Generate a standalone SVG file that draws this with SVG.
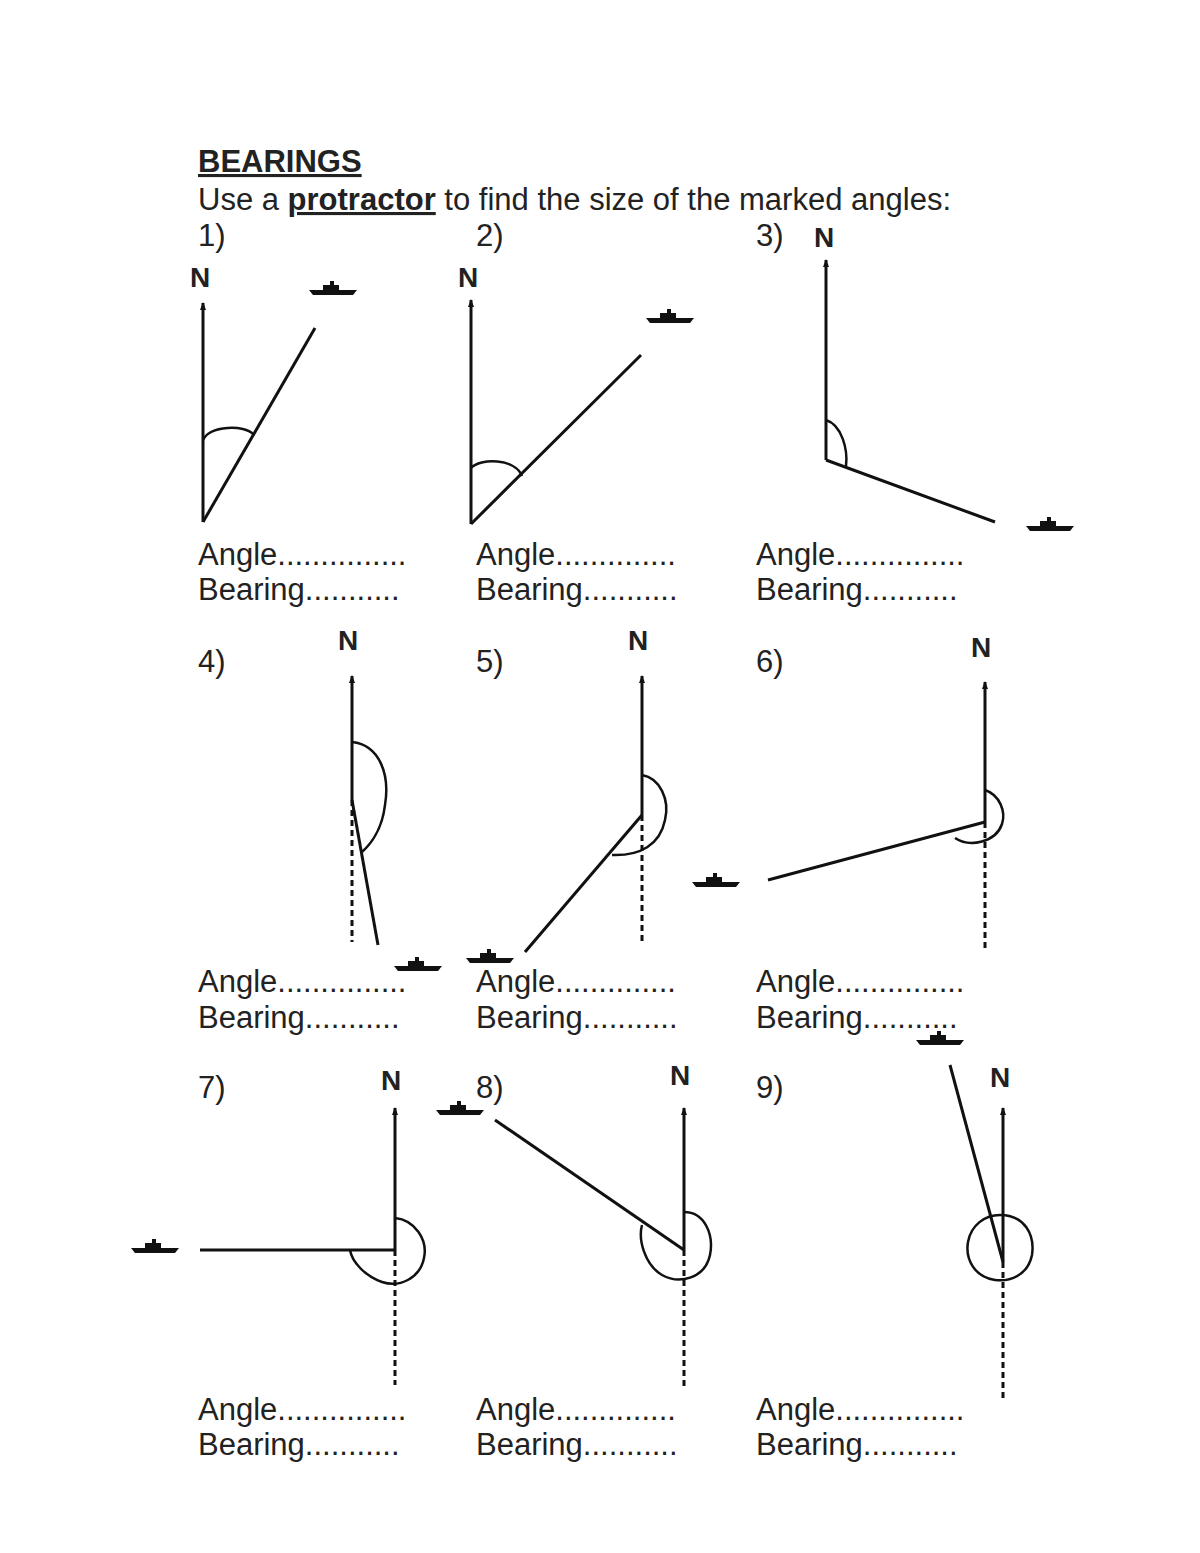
<svg xmlns="http://www.w3.org/2000/svg" width="1200" height="1553" viewBox="0 0 1200 1553">
<style>
text{font-family:"Liberation Sans",Arial,sans-serif;fill:#222}
.t{font-size:31px}
.n{font-size:28px;font-weight:bold}
.ln{stroke:#111;stroke-width:3;fill:none}
.d{stroke:#111;stroke-width:3;fill:none;stroke-dasharray:6,4}
.a{stroke:#111;stroke-width:2.5;fill:none}
</style>
<defs>
<marker id="ar" markerWidth="8" markerHeight="8" refX="7" refY="4" orient="auto" markerUnits="userSpaceOnUse"><path d="M0,1 L8,4 L0,7 Z" fill="#111"/></marker>
<g id="ship"><path d="M-24,2 L24,2 L20,7 L-20,7 Z" fill="#111"/><rect x="-10" y="-3" width="16" height="5" fill="#111"/><rect x="-3" y="-7" width="4" height="4" fill="#111"/></g>
</defs>
<rect width="1200" height="1553" fill="#fff"/>
<text x="198" y="172" class="t" style="font-weight:bold;text-decoration:underline">BEARINGS</text>
<text x="198" y="210" class="t">Use a <tspan font-weight="bold" text-decoration="underline">protractor</tspan> to find the size of the marked angles:</text>
<g class="t">
<text x="198" y="246">1)</text><text x="476" y="246">2)</text><text x="756" y="246">3)</text>
<text x="198" y="672">4)</text><text x="476" y="672">5)</text><text x="756" y="672">6)</text>
<text x="198" y="1098">7)</text><text x="476" y="1098">8)</text><text x="756" y="1098">9)</text>
</g>
<g id="d1"><text x="190" y="287" class="n">N</text><line x1="203" y1="522" x2="203" y2="303" class="ln" marker-end="url(#ar)"/><line x1="203" y1="522" x2="315" y2="328" class="ln"/><path d="M203,440 C210,425 245,425 253,434" class="a"/><use href="#ship" x="333" y="288"/></g>
<g id="d2"><text x="458" y="287" class="n">N</text><line x1="471" y1="524" x2="471" y2="300" class="ln" marker-end="url(#ar)"/><line x1="471" y1="524" x2="641" y2="355" class="ln"/><path d="M471,468 C480,458 515,458 522,476" class="a"/><use href="#ship" x="670" y="316"/></g>
<g id="d3"><text x="814" y="247" class="n">N</text><line x1="826" y1="460" x2="826" y2="260" class="ln" marker-end="url(#ar)"/><line x1="826" y1="460" x2="995" y2="522" class="ln"/><path d="M826,420 C842,425 848,450 846,466" class="a"/><use href="#ship" x="1050" y="524"/></g>
<g id="d4"><text x="338" y="650" class="n">N</text><line x1="352" y1="800" x2="352" y2="676" class="ln" marker-end="url(#ar)"/><line x1="352" y1="800" x2="352" y2="942" class="d"/><line x1="352" y1="800" x2="378" y2="945" class="ln"/><path d="M352,742 C380,745 390,775 385,805 C382,830 370,845 362,852" class="a"/><use href="#ship" x="418" y="964"/></g>
<g id="d5"><text x="628" y="650" class="n">N</text><line x1="642" y1="815" x2="642" y2="676" class="ln" marker-end="url(#ar)"/><line x1="642" y1="815" x2="642" y2="942" class="d"/><line x1="642" y1="815" x2="525" y2="952" class="ln"/><path d="M642,775 C660,778 670,800 665,820 C660,845 640,856 612,855" class="a"/><use href="#ship" x="490" y="956"/></g>
<g id="d6"><text x="971" y="657" class="n">N</text><line x1="985" y1="822" x2="985" y2="682" class="ln" marker-end="url(#ar)"/><line x1="985" y1="822" x2="985" y2="952" class="d"/><line x1="985" y1="822" x2="768" y2="880" class="ln"/><path d="M985,790 C1000,795 1006,812 1002,824 C996,842 970,848 955,838" class="a"/><use href="#ship" x="716" y="880"/></g>
<g id="d7"><text x="381" y="1090" class="n">N</text><line x1="395" y1="1250" x2="395" y2="1108" class="ln" marker-end="url(#ar)"/><line x1="395" y1="1250" x2="395" y2="1385" class="d"/><line x1="395" y1="1250" x2="200" y2="1250" class="ln"/><path d="M395,1218 C415,1220 428,1240 424,1258 C420,1278 400,1288 382,1282 C365,1276 352,1262 350,1250" class="a"/><use href="#ship" x="155" y="1246"/></g>
<g id="d8"><text x="670" y="1085" class="n">N</text><line x1="684" y1="1250" x2="684" y2="1108" class="ln" marker-end="url(#ar)"/><line x1="684" y1="1250" x2="684" y2="1390" class="d"/><line x1="684" y1="1250" x2="495" y2="1120" class="ln"/><path d="M684,1212 C705,1212 714,1235 710,1255 C705,1278 680,1285 662,1275 C645,1265 638,1240 642,1225" class="a"/><use href="#ship" x="460" y="1108"/></g>
<g id="d9"><text x="990" y="1087" class="n">N</text><line x1="1003" y1="1262" x2="1003" y2="1108" class="ln" marker-end="url(#ar)"/><line x1="1003" y1="1262" x2="1003" y2="1400" class="d"/><line x1="1003" y1="1262" x2="950" y2="1065" class="ln"/><path d="M1000,1215 C1025,1215 1035,1235 1032,1255 C1028,1275 1010,1282 995,1280 C975,1277 965,1260 968,1242 C971,1225 985,1215 1000,1215 Z" class="a"/><use href="#ship" x="940" y="1038"/></g>
<g class="t">
<text x="198" y="565">Angle...............</text><text x="198" y="600">Bearing...........</text>
<text x="476" y="565">Angle..............</text><text x="476" y="600">Bearing...........</text>
<text x="756" y="565">Angle...............</text><text x="756" y="600">Bearing...........</text>
<text x="198" y="992">Angle...............</text><text x="198" y="1028">Bearing...........</text>
<text x="476" y="992">Angle..............</text><text x="476" y="1028">Bearing...........</text>
<text x="756" y="992">Angle...............</text><text x="756" y="1028">Bearing...........</text>
<text x="198" y="1420">Angle...............</text><text x="198" y="1455">Bearing...........</text>
<text x="476" y="1420">Angle..............</text><text x="476" y="1455">Bearing...........</text>
<text x="756" y="1420">Angle...............</text><text x="756" y="1455">Bearing...........</text>
</g>
</svg>
